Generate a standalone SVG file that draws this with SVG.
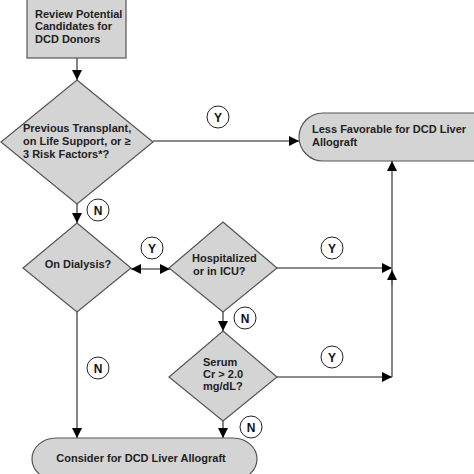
<svg xmlns="http://www.w3.org/2000/svg" width="474" height="474" viewBox="0 0 474 474">
<defs>
<marker id="ah" viewBox="0 0 10 10" refX="10" refY="5" markerWidth="10" markerHeight="10" markerUnits="userSpaceOnUse" orient="auto-start-reverse">
<path d="M0,0 L10,5 L0,10 z" fill="#000"/>
</marker>
<style>
.shape{fill:#d4d4d4;stroke:#555;stroke-width:1.2}
.t{font-family:"Liberation Sans",Arial,sans-serif;font-weight:bold;font-size:11px;fill:#222}
.c{fill:#fff;stroke:#222;stroke-width:1}
.ct{font-family:"Liberation Sans",Arial,sans-serif;font-weight:bold;font-size:12px;fill:#111;text-anchor:middle}
.ln{stroke:#666;stroke-width:1.6;fill:none}
</style>
</defs>
<rect width="474" height="474" fill="#fff"/>
<g id="connectors">
<line class="ln" x1="77" y1="58" x2="77" y2="80" marker-end="url(#ah)"/>
<line class="ln" x1="153" y1="141" x2="299" y2="141" marker-end="url(#ah)"/>
<line class="ln" x1="77" y1="204" x2="77" y2="223" marker-end="url(#ah)"/>
<line class="ln" x1="131" y1="269" x2="170" y2="269" marker-start="url(#ah)" marker-end="url(#ah)"/>
<line class="ln" x1="277" y1="268" x2="392" y2="268" marker-end="url(#ah)"/>
<line class="ln" x1="392" y1="377" x2="392" y2="161" marker-end="url(#ah)"/>
<line class="ln" x1="392" y1="285" x2="392" y2="270" marker-end="url(#ah)"/>
<line class="ln" x1="223" y1="312" x2="223" y2="331" marker-end="url(#ah)"/>
<line class="ln" x1="277" y1="377" x2="392" y2="377" marker-end="url(#ah)"/>
<line class="ln" x1="77" y1="312" x2="77" y2="438" marker-end="url(#ah)"/>
<line class="ln" x1="223" y1="421" x2="223" y2="438" marker-end="url(#ah)"/>
</g>
<g id="review">
<rect class="shape" x="27" y="-5" width="99" height="63"/>
<text class="t" x="35" y="18">Review Potential</text>
<text class="t" x="35" y="30">Candidates for</text>
<text class="t" x="35" y="43">DCD Donors</text>
</g>
<g id="previous">
<polygon class="shape" points="77,80 153,142 77,204 1,142"/>
<text class="t" x="23" y="132">Previous Transplant,</text>
<text class="t" x="23" y="145">on Life Support, or ≥</text>
<text class="t" x="23" y="158">3 Risk Factors*?</text>
</g>
<g id="lessfav">
<rect class="shape" x="299" y="113" width="200" height="48" rx="24" ry="24"/>
<text class="t" x="312" y="133">Less Favorable for DCD Liver</text>
<text class="t" x="312" y="146">Allograft</text>
</g>
<g id="dialysis">
<polygon class="shape" points="77,223 131,268 77,312 23,268"/>
<text class="t" x="78" y="268" text-anchor="middle">On Dialysis?</text>
</g>
<g id="hospitalized">
<polygon class="shape" points="223,222 277,268 223,312 169,268"/>
<text class="t" x="192" y="262">Hospitalized</text>
<text class="t" x="193" y="275">or in ICU?</text>
</g>
<g id="serum">
<polygon class="shape" points="223,331 277,377 223,421 169,377"/>
<text class="t" x="203" y="366">Serum</text>
<text class="t" x="203" y="378">Cr &gt; 2.0</text>
<text class="t" x="203" y="390">mg/dL?</text>
</g>
<g id="consider">
<rect class="shape" x="32" y="438" width="225" height="42" rx="24" ry="21"/>
<text class="t" x="141" y="462" text-anchor="middle">Consider for DCD Liver Allograft</text>
</g>
<g id="labels">
<circle class="c" cx="218" cy="117" r="11"/><text class="ct" x="218" y="121.5">Y</text>
<circle class="c" cx="98" cy="210" r="11"/><text class="ct" x="98" y="214.5">N</text>
<circle class="c" cx="152" cy="248" r="11"/><text class="ct" x="152" y="252.5">Y</text>
<circle class="c" cx="332" cy="248" r="11"/><text class="ct" x="332" y="252.5">Y</text>
<circle class="c" cx="245" cy="318" r="11"/><text class="ct" x="245" y="322.5">N</text>
<circle class="c" cx="332" cy="357" r="11"/><text class="ct" x="332" y="361.5">Y</text>
<circle class="c" cx="98" cy="368" r="11"/><text class="ct" x="98" y="372.5">N</text>
<circle class="c" cx="251" cy="427" r="11"/><text class="ct" x="251" y="431.5">N</text>
</g>
</svg>
